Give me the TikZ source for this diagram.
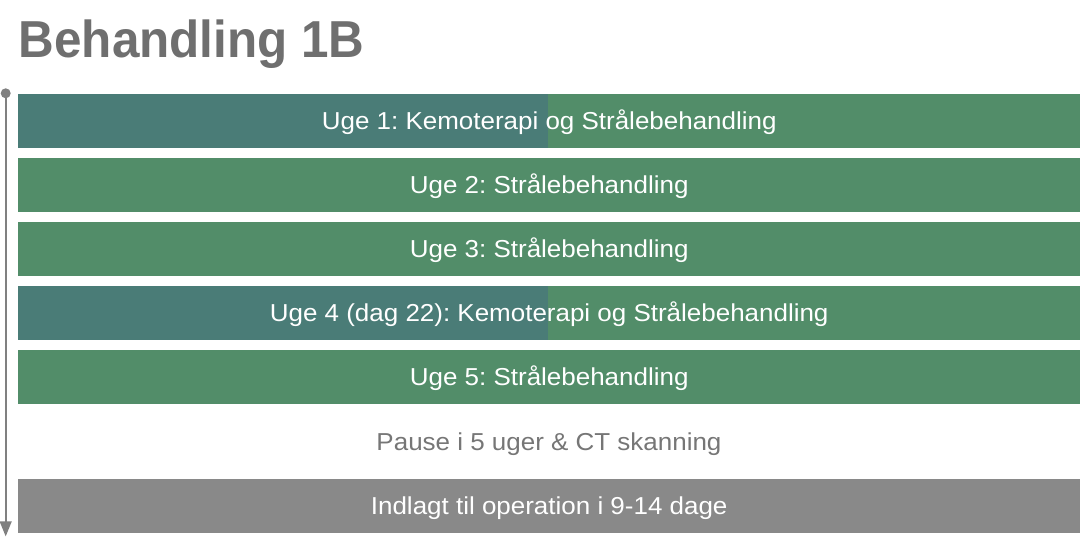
\documentclass[tikz,border=0pt]{standalone}
\usepackage{fontspec}
\setmainfont{Liberation Sans}
\usetikzlibrary{arrows.meta}
\frenchspacing
\definecolor{tealc}{HTML}{4A7C77}
\definecolor{greenc}{HTML}{528D69}
\definecolor{graybar}{HTML}{898989}
\definecolor{graytext}{HTML}{767676}
\definecolor{titlec}{HTML}{6F6F6F}
\definecolor{arrowc}{HTML}{808080}
\tikzset{
  bar/.style={draw=none, fill=greenc, minimum width=1062pt, minimum height=53.5pt, inner sep=0pt, anchor=north west},
  splitbar/.style={bar, path picture={\fill[tealc] (path picture bounding box.south west) rectangle ([xshift=-1pt]path picture bounding box.north);}},
  graybarst/.style={bar, fill=graybar},
  bartext/.style={anchor=base, inner sep=0pt, text=white, font=\fontsize{24.5}{29}\selectfont},
  pausetext/.style={anchor=base, inner sep=0pt, text=graytext, font=\fontsize{24.5}{29}\selectfont},
}
\newcommand{\wtxt}[1]{\scalebox{1.06}[1]{#1}}
\begin{document}
\begin{tikzpicture}[x=1pt,y=1pt]
\useasboundingbox (0,0) rectangle (1080,537);
% title
\node[anchor=base west, inner sep=0pt, text=titlec, font=\bfseries\fontsize{52}{60}\selectfont] (title) at (18.5,479.5) {\scalebox{0.95}[1]{Behandling 1B}};
% bars
\node[splitbar] (b1) at (18,443) {};
\node[bar] (b2) at (18,379) {};
\node[bar] (b3) at (18,315) {};
\node[splitbar] (b4) at (18,251) {};
\node[bar] (b5) at (18,187) {};
\node[graybarst] (b6) at (18,57.7) {};
% texts
\node[bartext] (t1) at ([yshift=-8.7pt]b1.center) {\wtxt{Uge 1: Kemoterapi og Strålebehandling}};
\node[bartext] (t2) at ([yshift=-8.7pt]b2.center) {\wtxt{Uge 2: Strålebehandling}};
\node[bartext] (t3) at ([yshift=-8.7pt]b3.center) {\wtxt{Uge 3: Strålebehandling}};
\node[bartext] (t4) at ([yshift=-8.7pt]b4.center) {\wtxt{Uge 4 (dag 22): Kemoterapi og Strålebehandling}};
\node[bartext] (t5) at ([yshift=-8.7pt]b5.center) {\wtxt{Uge 5: Strålebehandling}};
\node[pausetext] (pause) at (549,86.3) {\wtxt{Pause i 5 uger \& CT skanning}};
\node[bartext] (t6) at ([yshift=-8.7pt]b6.center) {\wtxt{Indlagt til operation i 9-14 dage}};
% timeline arrow
\coordinate (atop) at (5.7,443.7);
\coordinate (abot) at (5.7,0.5);
\draw[arrowc, line width=2.2pt, -{Triangle[length=15pt,width=11.5pt]}] (atop) -- (abot);
\fill[arrowc] (atop) circle (5pt);
\end{tikzpicture}
\end{document}
